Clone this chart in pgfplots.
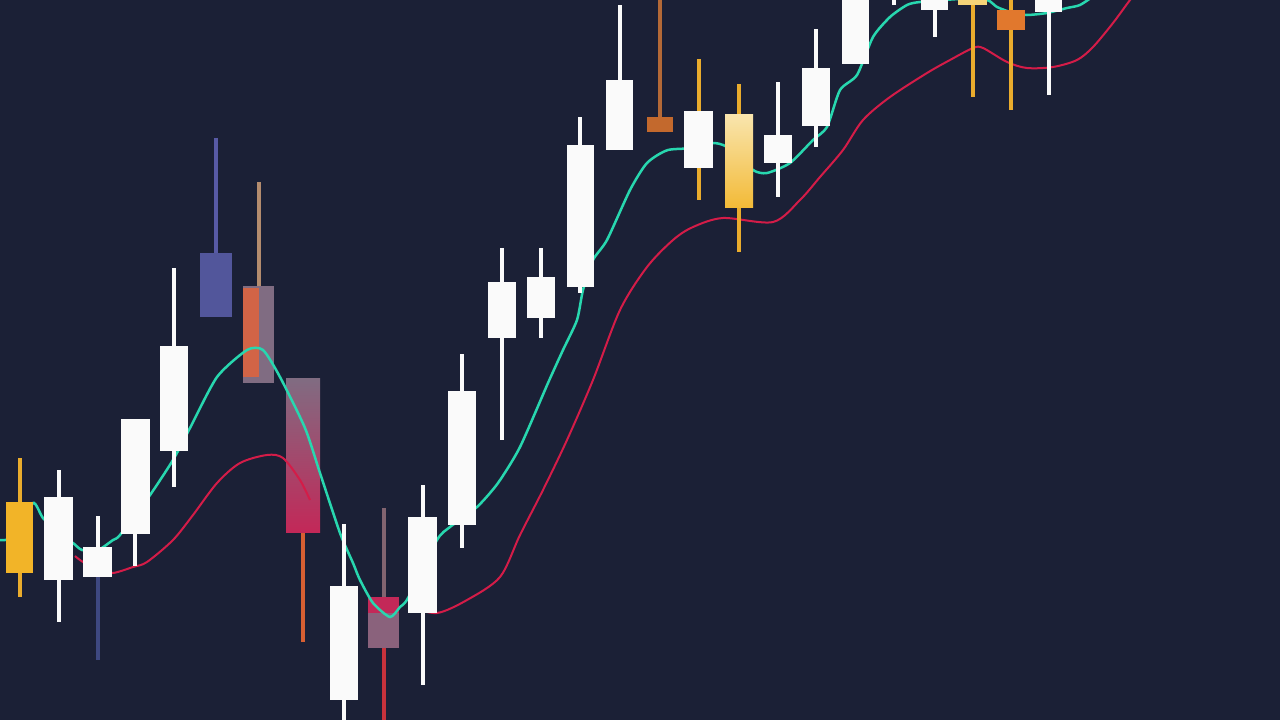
\documentclass[border=0pt]{standalone}
\usepackage{pgfplots}
\pgfplotsset{compat=1.18}
\definecolor{bg}{RGB}{27,32,54}
\definecolor{tealc}{RGB}{40,215,175}
\definecolor{redc}{RGB}{212,28,72}
\definecolor{gold}{RGB}{242,180,40}
\definecolor{goldwick}{RGB}{234,172,45}
\definecolor{lightgold}{RGB}{245,212,120}
\definecolor{blueb}{RGB}{82,86,155}
\definecolor{bluew}{RGB}{88,90,165}
\definecolor{bluelow}{RGB}{62,72,128}
\definecolor{mauve}{RGB}{128,108,130}
\definecolor{orange7}{RGB}{210,100,70}
\definecolor{tan}{RGB}{180,140,110}
\definecolor{orangewick}{RGB}{215,95,50}
\definecolor{crimson}{RGB}{195,40,88}
\definecolor{graywick}{RGB}{130,100,112}
\definecolor{redwick}{RGB}{200,50,60}
\definecolor{brown17}{RGB}{195,105,45}
\definecolor{brownwick}{RGB}{180,105,55}
\definecolor{orange26}{RGB}{225,120,45}
\definecolor{wcandle}{RGB}{250,250,250}
\newcommand\wick[4]{\addplot[draw=#4,line width=4pt,line cap=butt] coordinates {(#1,#2) (#1,#3)};}
\newcommand\cbody[5]{\addplot[draw=#5,line width=#4pt,line cap=butt] coordinates {(#1,#2) (#1,#3)};}
\begin{document}
\begin{tikzpicture}
\fill[bg] (0,0) rectangle (1280pt,720pt);
\begin{axis}[at={(0,0)},anchor=south west,width=1280pt,height=720pt,scale only axis,
  xmin=0,xmax=1280,ymin=0,ymax=720,y dir=reverse,hide axis,clip=true]
% coloured (translucent-looking) candles, behind the lines
\wick{216}{138}{253}{bluew}
\cbody{216}{253}{317}{32}{blueb}
\wick{258.5}{182}{286}{tan}
\cbody{258.5}{286}{383}{31}{mauve}
\cbody{250.75}{288}{377}{15.5}{orange7}
\wick{303}{532}{642}{orangewick}
\addplot[draw=none,top color=mauve,bottom color=crimson] coordinates {(286,378) (320,378) (320,532) (286,532)} -- cycle;
\wick{383.5}{508}{597}{graywick}
\wick{383.5}{648}{725}{redwick}
\cbody{383.5}{597}{613}{31}{crimson}
\cbody{383.5}{613}{648}{31}{mauve!85!crimson}
\wick{660}{-5}{117}{brownwick}
\cbody{660}{117}{132}{26}{brown17}
% moving averages
\addplot[redc,line width=2pt,smooth,tension=0.5] coordinates {
(75,556) (83,562) (100,570) (113,573) (133,567) (147,562) (173,540) (193,515) (217,483) (240,463) (267,455) (283,458) (300,480) (310,500)};
\addplot[redc,line width=2pt,smooth,tension=0.5] coordinates {
(410,607) (437,613) (467,600) (500,577) (520,535) (543,490) (567,440) (593,380) (620,310) (647,267) (673,240) (693,227) (723,218) (773,222) (800,200) (820,177) (843,150) (863,120) (890,97) (927,73) (950,60) (973,48) (983,48) (1007,62) (1027,68) (1053,67) (1077,60) (1093,47) (1113,23) (1130,0) (1140,-12)};
\addplot[tealc,line width=2.5pt,smooth,tension=0.4] coordinates {
(-5,540) (5,540) (18,535) (33,503) (43,518) (60,535) (73,543) (82,550) (98,550) (113,540) (120,535) (148,498) (173,460) (190,428) (217,377) (247,350) (263,350) (280,377) (305,428) (320,473) (340,533) (353,563) (360,580) (373,603) (390,617) (400,607) (408,598) (437,540) (450,527) (477,507) (498,483) (520,447) (548,383) (563,350) (577,320) (583,290) (593,260) (607,240) (630,190) (647,163) (668,150) (700,148) (713,143) (727,147) (753,170) (767,173) (790,163) (813,140) (827,127) (840,90) (857,75) (873,37) (890,17) (907,5) (920,2) (960,-1) (987,0) (997,7) (1013,13) (1027,15) (1047,13) (1067,8) (1080,5) (1095,-5)};
% white and gold candles
\wick{20}{458}{597}{goldwick}
\cbody{19.5}{502}{573}{27}{gold}
\wick{58.5}{470}{622}{wcandle}
\cbody{58.5}{497}{580}{29}{wcandle}
\wick{97.5}{516}{547}{wcandle}
\wick{97.5}{577}{660}{bluelow}
\cbody{97.5}{547}{577}{29}{wcandle}
\wick{135}{419}{566}{wcandle}
\cbody{135}{419}{534}{29}{wcandle}
\wick{174}{268}{487}{wcandle}
\cbody{174}{346}{451}{28}{wcandle}
\wick{344}{524}{725}{wcandle}
\cbody{344}{586}{700}{28}{wcandle}
\wick{422.5}{485}{685}{wcandle}
\cbody{422.5}{517}{613}{29}{wcandle}
\wick{461.5}{354}{548}{wcandle}
\cbody{461.5}{391}{525}{28}{wcandle}
\wick{502}{248}{440}{wcandle}
\cbody{502}{282}{338}{28}{wcandle}
\wick{541}{248}{338}{wcandle}
\cbody{541}{277}{318}{28}{wcandle}
\wick{580}{117}{293}{wcandle}
\cbody{580}{145}{287}{27}{wcandle}
\wick{619.5}{5}{80}{wcandle}
\cbody{619.5}{80}{150}{27}{wcandle}
\wick{698.5}{59}{200}{goldwick}
\cbody{698.5}{111}{168}{29}{wcandle}
\wick{739}{84}{252}{goldwick}
\addplot[draw=none,top color=lightgold!60!white,bottom color=gold!80!lightgold] coordinates {(725,114) (753,114) (753,207) (725,207)} -- cycle;
\wick{778}{82}{197}{wcandle}
\cbody{778}{135}{163}{28}{wcandle}
\wick{816}{29}{147}{wcandle}
\cbody{816}{68}{126}{28}{wcandle}
\cbody{855.5}{-5}{64}{27}{wcandle}
\wick{894}{-5}{5}{wcandle}
\wick{934.5}{-5}{37}{wcandle}
\cbody{934.5}{-5}{10}{27}{wcandle}
\wick{972.5}{-5}{97}{goldwick}
\cbody{972.5}{-5}{5}{29}{lightgold}
\wick{1011}{-5}{110}{goldwick}
\cbody{1011}{10}{30}{28}{orange26}
\wick{1048.5}{-5}{95}{wcandle}
\cbody{1048.5}{-5}{12}{27}{wcandle}
\end{axis}
\end{tikzpicture}
\end{document}
